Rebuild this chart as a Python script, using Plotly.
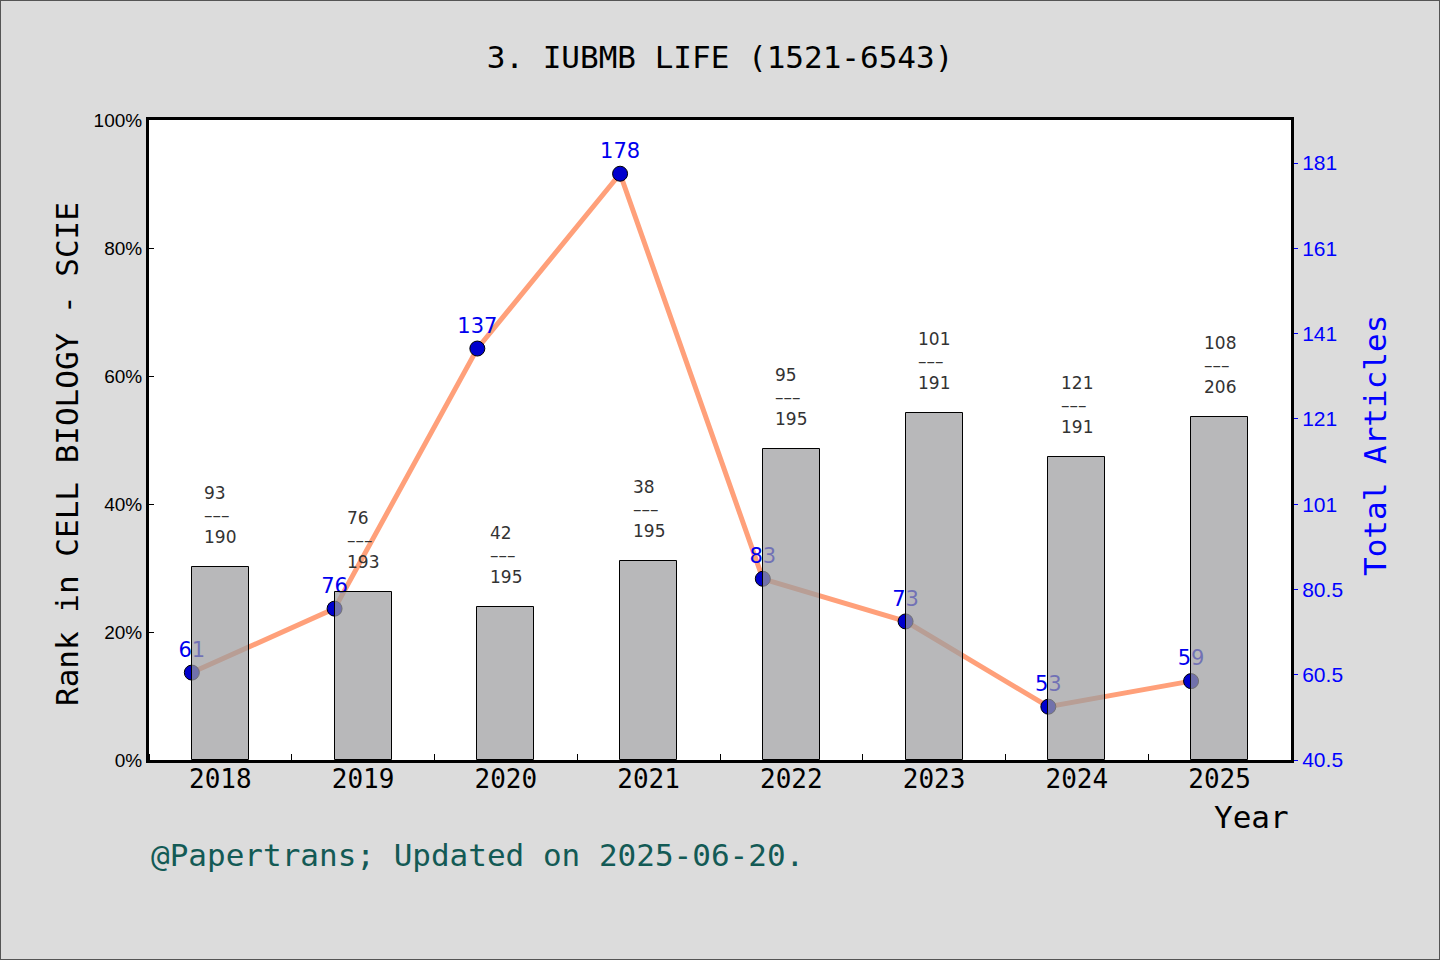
import plotly.graph_objects as go

# values
years = ["2018", "2019", "2020", "2021", "2022", "2023", "2024", "2025"]
rank_share = [0.302, 0.262, 0.239, 0.311, 0.486, 0.542, 0.473, 0.536]
rank_pos = [93, 76, 42, 38, 95, 101, 121, 108]
rank_total = [190, 193, 195, 195, 195, 191, 191, 206]
articles = [61, 76, 137, 178, 83, 73, 53, 59]

right_ticks = [40.5, 60.5, 80.5, 100.5, 120.5, 140.5, 160.5, 180.5]
right_ticktext = ["40.5", "60.5", "80.5", "101", "121", "141", "161", "181"]
left_ticks = [0, 0.2, 0.4, 0.6, 0.8, 1.0]

W, H = 1440, 960
L, R, T, B = 149, 149, 120, 200
PW, PH = W - L - R, H - T - B

MONO = "DejaVu Sans Mono"
NARROW = "Liberation Sans Narrow, Liberation Sans, Arial"
SANS = "DejaVu Sans, Noto Sans"

x_bar = list(range(len(years)))
x_line = [i - 0.2 for i in x_bar]

fig = go.Figure()

# line on the base axis (right side) so the bars on the overlay axis sit on top
fig.add_trace(
    go.Scatter(
        x=x_line,
        y=articles,
        mode="lines+markers+text",
        line={"color": "#ffa07a", "width": 5},
        marker={"color": "#0000cd", "size": 15, "line": {"color": "black", "width": 1}},
        text=[str(v) for v in articles],
        textposition="top center",
        textfont={"color": "#0000ee", "size": 21, "family": SANS},
        cliponaxis=False,
        yaxis="y",
        showlegend=False,
    )
)

fig.add_trace(
    go.Bar(
        x=x_bar,
        y=rank_share,
        width=0.4,
        marker={"color": "rgba(156,157,160,0.72)", "line": {"color": "black", "width": 1}},
        yaxis="y2",
        showlegend=False,
    )
)

for i, (p, t, s) in enumerate(zip(rank_pos, rank_total, rank_share)):
    fig.add_annotation(
        x=i,
        y=s,
        xref="x",
        yref="y2",
        text=f"{p}<br>–––<br>{t}",
        showarrow=False,
        align="left",
        xanchor="center",
        yanchor="bottom",
        yshift=18,
        font={"color": "#333333", "size": 17, "family": SANS},
    )


def paper_x(px):
    return (px - L) / PW


def paper_y(py):
    return (H - B - py) / PH


fig.add_annotation(
    x=paper_x(67), y=paper_y(454), xref="paper", yref="paper",
    text="Rank in CELL BIOLOGY - SCIE", textangle=-90, showarrow=False,
    xanchor="center", yanchor="middle",
    font={"size": 31, "family": MONO, "color": "black"},
)
fig.add_annotation(
    x=paper_x(1375), y=paper_y(446), xref="paper", yref="paper",
    text="Total Articles", textangle=-90, showarrow=False,
    xanchor="center", yanchor="middle",
    font={"size": 31, "family": MONO, "color": "#0000ff"},
)
fig.add_annotation(
    x=1, y=paper_y(817), xref="paper", yref="paper", text="Year", showarrow=False,
    xanchor="right", yanchor="middle", font={"size": 31, "family": MONO, "color": "black"},
)
fig.add_annotation(
    x=0, y=paper_y(855), xref="paper", yref="paper",
    text="@Papertrans; Updated on 2025-06-20.", showarrow=False,
    xanchor="left", yanchor="middle", font={"size": 31, "family": MONO, "color": "#135a55"},
)

# thin frame around the whole figure
fig.add_shape(
    type="rect", xref="paper", yref="paper",
    x0=paper_x(0), x1=paper_x(W), y0=paper_y(H), y1=paper_y(0),
    line={"color": "#555555", "width": 2}, layer="below",
)

fig.update_layout(
    width=W,
    height=H,
    paper_bgcolor="#dcdcdc",
    plot_bgcolor="white",
    margin={"l": L, "r": R, "t": T, "b": B},
    bargap=0,
    title={
        "text": "3. IUBMB LIFE (1521-6543)",
        "x": 0.5,
        "xanchor": "center",
        "y": 1 - 57 / H,
        "yanchor": "middle",
        "font": {"size": 31, "family": MONO, "color": "black"},
    },
    xaxis={
        "range": [-0.5, 7.5],
        "tickvals": x_bar,
        "ticktext": years,
        "ticks": "",
        "ticklabelstandoff": -6,
        "tickfont": {"size": 26, "family": MONO, "color": "black"},
        "showgrid": False,
        "zeroline": False,
        "showline": True,
        "linecolor": "black",
        "linewidth": 3,
        "mirror": True,
        "minor": {"tick0": 0.5, "dtick": 1, "ticks": "inside", "ticklen": 6, "tickcolor": "black", "showgrid": False},
    },
    yaxis={
        "side": "right",
        "range": [40.5, 190.6],
        "tickvals": right_ticks,
        "ticktext": right_ticktext,
        "ticks": "outside",
        "ticklen": 4,
        "tickcolor": "#0000ff",
        "tickfont": {"size": 21, "family": NARROW, "color": "#0000ff"},
        "showgrid": False,
        "zeroline": False,
        "showline": True,
        "linecolor": "black",
        "linewidth": 3,
    },
    yaxis2={
        "side": "left",
        "overlaying": "y",
        "range": [0, 1],
        "tickvals": left_ticks,
        "tickformat": ".0%",
        "ticks": "inside",
        "ticklen": 5,
        "tickcolor": "black",
        "tickfont": {"size": 19, "family": NARROW, "color": "black"},
        "showgrid": False,
        "zeroline": False,
        "showline": True,
        "linecolor": "black",
        "linewidth": 3,
    },
)

fig.write_html(
    "out.html",
    config={"displayModeBar": False},
    post_script="document.body.style.margin='0';",
)
